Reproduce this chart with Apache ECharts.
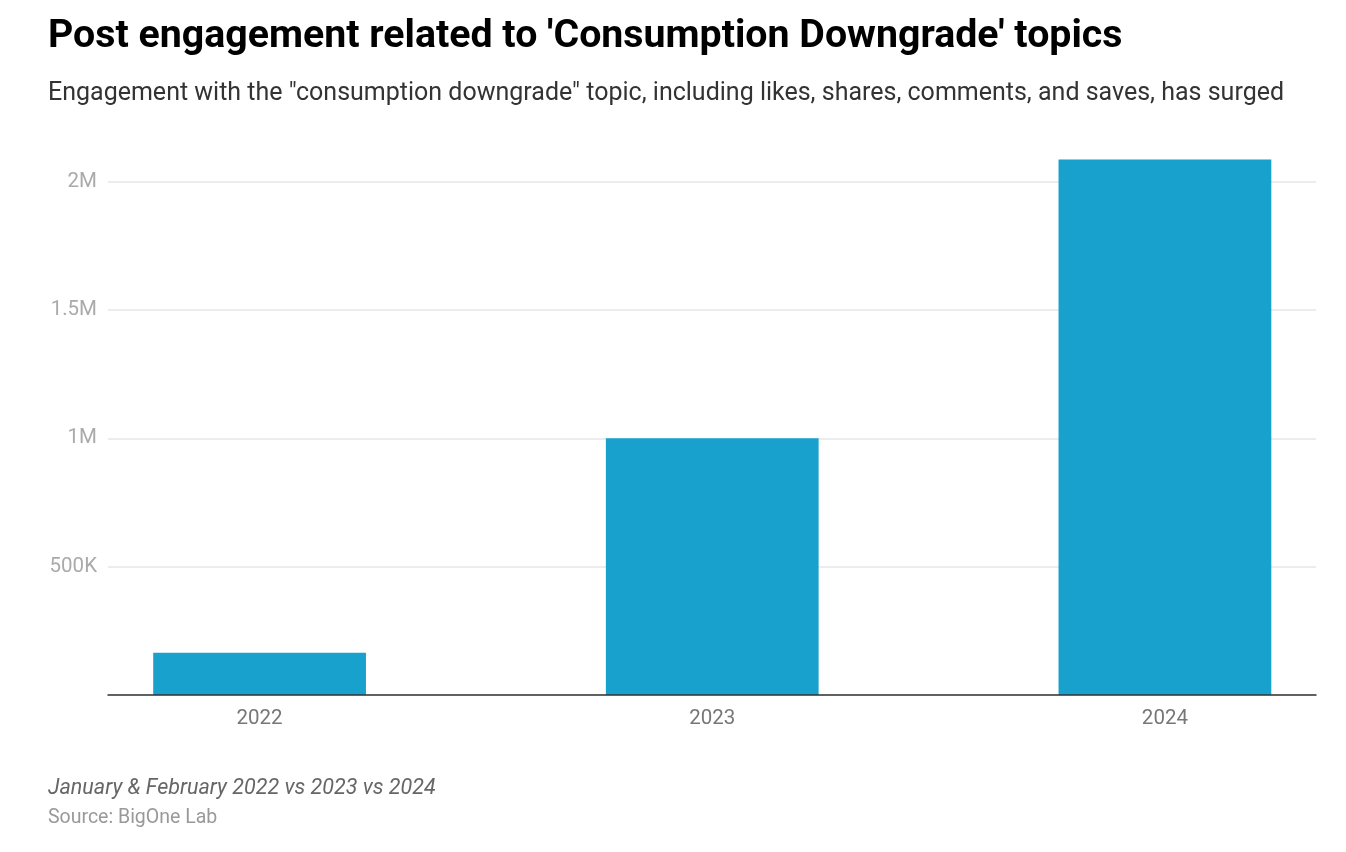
<!DOCTYPE html>
<html><head><meta charset="utf-8">
<script src="https://cdn.jsdelivr.net/npm/echarts@6/dist/echarts.min.js"></script>
<style>html,body{margin:0;padding:0;background:#fff}#c{width:1346px;height:852px}</style>
</head><body><div id="c"></div>
<script>
const categories = ['2022', '2023', '2024'];
const engagement = [165000, 1000000, 2087000];
const yTicks = [0, 500000, 1000000, 1500000, 2000000];
const yTickLabels = ['', '500K', '1M', '1.5M', '2M'];

const TOP = 130.4, BOTTOM = 157;
const chart = echarts.init(document.getElementById('c'));
chart.setOption({
  animation: false,
  backgroundColor: '#fff',
  textStyle: { fontFamily: 'Roboto' },
  title: [
    { text: "Post engagement related to 'Consumption Downgrade' topics", left: 48, top: 18, padding: 0,
      textStyle: { fontFamily: 'Roboto', fontWeight: 'bold', fontSize: 39.3, color: '#000' } },
    { text: 'Engagement with the "consumption downgrade" topic, including likes, shares, comments, and saves, has surged', left: 48, top: 81.5, padding: 0,
      textStyle: { fontFamily: 'Roboto', fontWeight: 'normal', fontSize: 25, color: '#333' } },
    { text: 'January & February 2022 vs 2023 vs 2024', left: 48, top: 777.5, padding: 0,
      textStyle: { fontFamily: 'Roboto', fontStyle: 'italic', fontWeight: 'normal', fontSize: 21.5, color: '#666' } },
    { text: 'Source: BigOne Lab', left: 48, top: 808, padding: 0,
      textStyle: { fontFamily: 'Roboto', fontWeight: 'normal', fontSize: 19.5, color: '#999' } }
  ],
  grid: [
    { left: 108, right: 30, top: TOP, bottom: BOTTOM, containLabel: false, outerBoundsMode: 'none' },
    { left: 33.25, right: -45.25, top: TOP, bottom: BOTTOM, containLabel: false, outerBoundsMode: 'none' }
  ],
  xAxis: [
    { type: 'category', data: categories, gridIndex: 0, z: 5,
      axisLine: { show: true, lineStyle: { color: '#333', width: 1.5 } },
      axisTick: { show: false }, axisLabel: { show: false }, splitLine: { show: false } },
    { type: 'category', data: categories, gridIndex: 1,
      axisLine: { show: false }, axisTick: { show: false },
      axisLabel: { color: '#777', fontSize: 20.5, margin: 13, fontFamily: 'Roboto' } }
  ],
  yAxis: [
    { type: 'value', gridIndex: 0, min: 0, max: 2200000, interval: 500000,
      axisLine: { show: false }, axisTick: { show: false },
      axisLabel: {
        color: '#aaa', fontSize: 20.5, margin: 11, fontFamily: 'Roboto', showMaxLabel: false,
        formatter: v => { const i = yTicks.indexOf(v); return i >= 0 ? yTickLabels[i] : ''; }
      },
      splitLine: { show: true, showMaxLine: false, lineStyle: { color: '#e6e6e6', width: 1.5 } } },
    { type: 'value', gridIndex: 1, min: 0, max: 2200000, interval: 500000, show: false,
      splitLine: { show: false } }
  ],
  series: [{
    type: 'bar', data: engagement, barWidth: '47%', xAxisIndex: 1, yAxisIndex: 1,
    itemStyle: { color: '#17a1cc' }
  }]
});
</script></body></html>
